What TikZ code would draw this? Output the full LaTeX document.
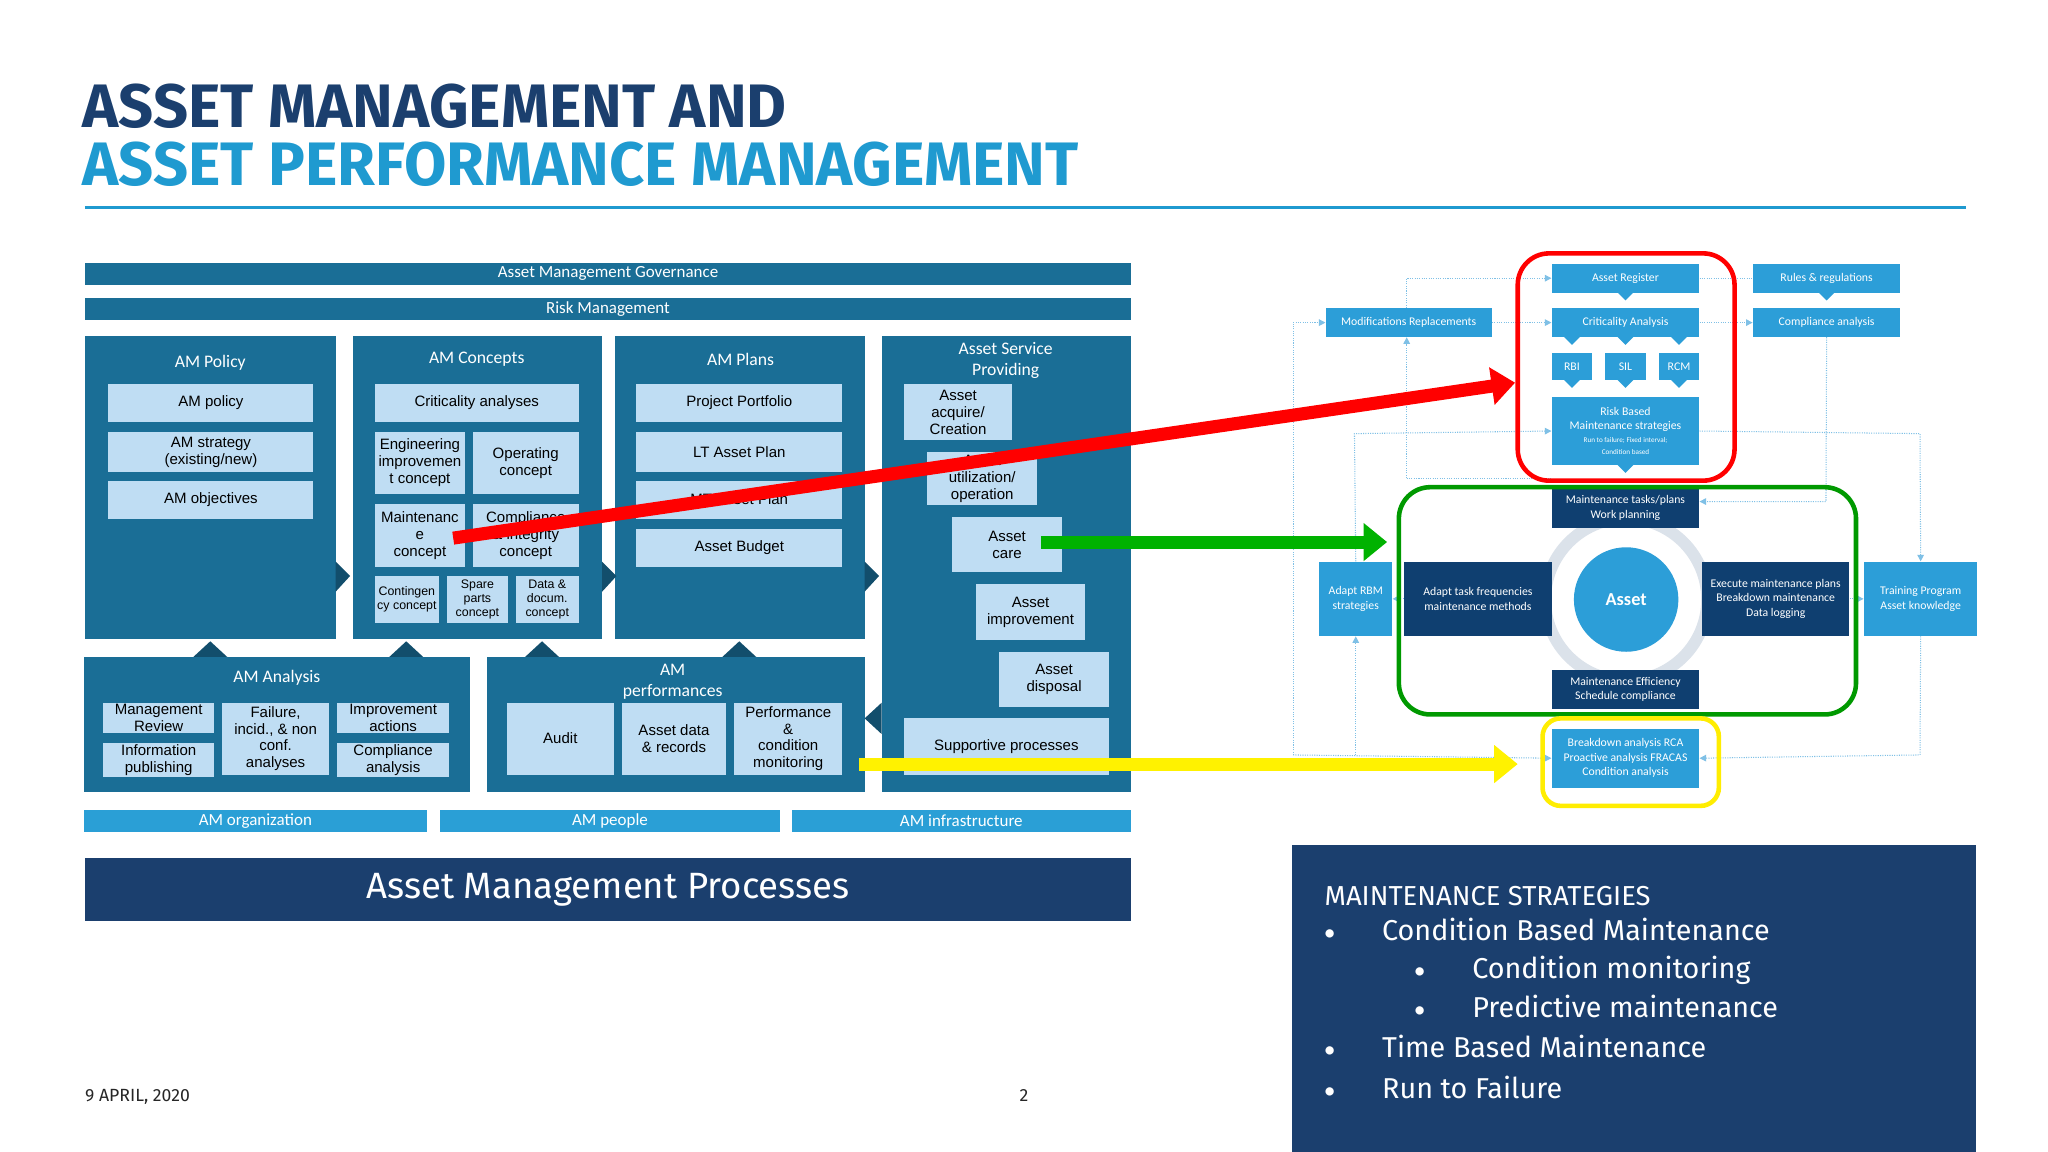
\documentclass[tikz,border=0pt]{standalone}
\usepackage{fontspec}
\setmainfont{Carlito}
\setsansfont{Liberation Sans}
\newfontfamily\titlef{Fira Sans}
\usetikzlibrary{arrows.meta}
\definecolor{navy}{HTML}{1B3F6E}
\definecolor{cyanT}{HTML}{1F9AD0}
\definecolor{teal}{HTML}{1A6E96}
\definecolor{lightb}{HTML}{BFDDF3}
\definecolor{barc}{HTML}{2A9FD6}
\definecolor{rbl}{HTML}{2C9ED8}
\definecolor{dkb}{HTML}{0F3F70}
\definecolor{tri}{HTML}{124E6C}
\definecolor{dotc}{HTML}{7FC0E6}
\newcommand\B[7]{\node[#1,minimum width={#5-#3},minimum height={#6-#4}] (#2) at ({(#3+#5)/2},{(#4+#6)/2}) {#7};}
\tikzset{
 every node/.style={inner sep=1pt,align=center},
 panel/.style={fill=teal,draw=none},
 lb/.style={fill=lightb,text=black,font=\sffamily\fontsize{11.5}{13}\selectfont},
 bar/.style={fill=teal,text=white,font=\fontsize{13}{14}\selectfont},
 cbar/.style={fill=barc,text=white,font=\fontsize{13}{14}\selectfont},
 hd/.style={text=white,font=\fontsize{13.5}{16}\selectfont},
 rb/.style={fill=rbl,text=white,font=\fontsize{9}{11}\selectfont},
 db/.style={fill=dkb,text=white,font=\fontsize{9}{11}\selectfont},
 dl/.style={draw=dotc,densely dotted,line width=0.8},
 da/.style={dl,-{Triangle[length=5,width=5]}},
 big/.style={line width=10,-{Triangle[length=18,width=28]}},
 hl/.style={rounded corners=24,line width=3.5},
}
\begin{document}
\begin{tikzpicture}[x=1pt,y=-1pt]
\useasboundingbox (0,0) rectangle (1568,882);
\fill[white] (0,0) rectangle (1568,882);
% title
\node[anchor=base west,inner sep=0,text=navy,font=\titlef\bfseries\fontsize{47}{50}\selectfont] (t1) at (63,98) {ASSET MANAGEMENT AND};
\node[anchor=base west,inner sep=0,text=cyanT,font=\titlef\bfseries\fontsize{47}{50}\selectfont] (t2) at (63,142) {ASSET PERFORMANCE MANAGEMENT};
\draw[cyanT,line width=2.5] (65,159) -- (1505,159);
% top bars
\B{bar}{gov}{65}{201}{866}{218}{Asset Management Governance}
\B{bar}{risk}{65}{228}{866}{245}{Risk Management}
% panels
\B{panel}{pPol}{65}{257}{257}{489}{}
\B{panel}{pCon}{270}{257}{461}{489}{}
\B{panel}{pPla}{471}{257}{662}{489}{}
\B{panel}{pSer}{675}{257}{866}{606}{}
\B{panel}{pAna}{64}{503}{360}{606}{}
\B{panel}{pPer}{373}{503}{662}{606}{}
\node[hd] (hPol) at (161,278) {AM Policy};
\node[hd] (hCon) at (365,275) {AM Concepts};
\node[hd] (hPla) at (567,275) {AM Plans};
\node[hd] (hSer) at (770,276) {Asset Service\\Providing};
\node[hd] (hAna) at (212,519) {AM Analysis};
\node[hd] (hPer) at (515,522) {AM\\performances};
% triangles
\foreach \x in {257,461,662}{\fill[tri] (\x,430) -- (\x+11,441) -- (\x,453) -- cycle;}
\fill[tri] (675,538) -- (662,550) -- (675,562) -- cycle;
\foreach \x in {161,311,415,566}{\fill[tri] (\x-13,503) -- (\x,491) -- (\x+13,503) -- cycle;}
% AM policy boxes
\B{lb}{b1}{83}{294}{240}{323}{AM policy}
\B{lb}{b2}{83}{331}{240}{361}{AM strategy\\(existing/new)}
\B{lb}{b3}{83}{368}{240}{397}{AM objectives}
% concepts
\B{lb}{c1}{287}{294}{443}{323}{Criticality analyses}
\B{lb}{c2}{287}{331}{356}{378}{Engineering\\improvemen\\t concept}
\B{lb}{c3}{362}{331}{443}{378}{Operating\\concept}
\B{lb}{c4}{287}{386}{356}{434}{Maintenanc\\e\\concept}
\B{lb}{c5}{362}{386}{443}{434}{Compliance\\\& integrity\\concept}
\B{lb,font=\sffamily\fontsize{9.5}{11}\selectfont}{c6}{287}{441}{336}{477}{Contingen\\cy concept}
\B{lb,font=\sffamily\fontsize{9.5}{11}\selectfont}{c7}{342}{441}{389}{477}{Spare\\parts\\concept}
\B{lb,font=\sffamily\fontsize{9.5}{11}\selectfont}{c8}{395}{441}{443}{477}{Data \&\\docum.\\concept}
% plans
\B{lb}{p1}{487}{294}{645}{323}{Project Portfolio}
\B{lb}{p2}{487}{331}{645}{361}{LT Asset Plan}
\B{lb}{p3}{487}{368}{645}{397}{MT Asset Plan}
\B{lb}{p4}{487}{405}{645}{434}{Asset Budget}
% service
\B{lb}{s1}{692}{294}{775}{337}{Asset\\acquire/\\Creation}
\B{lb}{s2}{710}{346}{794}{387}{Asset\\utilization/\\operation}
\B{lb}{s3}{729}{396}{813}{438}{Asset\\care}
\B{lb}{s4}{747}{447}{831}{490}{Asset\\improvement}
\B{lb}{s5}{765}{499}{849}{541}{Asset\\disposal}
\B{lb}{s6}{692}{550}{849}{593}{Supportive processes}
% analysis
\B{lb}{a1}{79}{538}{164}{561}{Management\\Review}
\B{lb}{a2}{79}{571}{164}{593}{Information\\publishing}
\B{lb}{a3}{170}{538}{252}{593}{Failure,\\incid., \& non\\conf.\\analyses}
\B{lb}{a4}{258}{538}{344}{561}{Improvement\\actions}
\B{lb}{a5}{258}{571}{344}{593}{Compliance\\analysis}
% performances
\B{lb}{e1}{388}{538}{470}{593}{Audit}
\B{lb}{e2}{476}{538}{556}{593}{Asset data\\\& records}
\B{lb}{e3}{562}{538}{645}{593}{Performance\\\&\\condition\\monitoring}
% bottom bars
\B{cbar}{org}{64}{620}{327}{637}{AM organization}
\B{cbar}{ppl}{337}{620}{597}{637}{AM people}
\B{cbar}{inf}{606}{620}{866}{637}{AM infrastructure}
\B{fill=navy,text=white,font=\titlef\fontsize{28}{30}\selectfont}{amp}{65}{657}{866}{705}{Asset Management Processes}
% footer
\node[anchor=base west,font=\titlef\fontsize{13.5}{15}\selectfont,text=black!85] (date) at (64,843) {9 APRIL, 2020};
\node[anchor=base,font=\titlef\fontsize{13.5}{15}\selectfont,text=black!85] (pg) at (784,843) {2};
% right diagram
\draw[draw=dkb!15,line width=9] (1245,459) circle (62);
\B{rb}{reg}{1188}{202}{1301}{224}{Asset Register}
\B{rb}{rul}{1342}{202}{1455}{224}{Rules \& regulations}
\B{rb}{mod}{1015}{236}{1142}{258}{Modifications Replacements}
\B{rb}{cri}{1188}{236}{1301}{258}{Criticality Analysis}
\B{rb}{cmp}{1342}{236}{1455}{258}{Compliance analysis}
\B{rb}{rbi}{1188}{270}{1219}{291}{RBI}
\B{rb}{sil}{1229}{270}{1260}{291}{SIL}
\B{rb}{rcm}{1270}{270}{1301}{291}{RCM}
\B{rb}{rbm}{1188}{304}{1301}{356}{Risk Based\\Maintenance strategies\\[-1pt]{\fontsize{5.5}{6.5}\selectfont Run to failure; Fixed interval;}\\[-2pt]{\fontsize{5.5}{6.5}\selectfont Condition based}}
\B{db}{mtp}{1188}{374}{1301}{404}{Maintenance tasks/plans\\Work planning}
\B{db}{adt}{1075}{430}{1188}{487}{Adapt task frequencies\\maintenance methods}
\B{db}{exe}{1303}{430}{1416}{487}{Execute maintenance plans\\Breakdown maintenance\\Data logging}
\B{rb}{arb}{1010}{430}{1066}{487}{Adapt RBM\\strategies}
\B{rb}{trn}{1427}{430}{1514}{487}{Training Program\\Asset knowledge}
\B{db}{eff}{1188}{513}{1301}{543}{Maintenance Efficiency\\Schedule compliance}
\B{rb}{bda}{1188}{558}{1301}{603}{Breakdown analysis RCA\\Proactive analysis FRACAS\\Condition analysis}
\node[circle,fill=rbl,minimum size=80,text=white,font=\bfseries\fontsize{14}{16}\selectfont] (ast) at (1245,459) {Asset};
% notches
\foreach \x/\y in {1244.5/224,1398.5/224,1203.5/258,1244.5/258,1285.5/258,1203.5/291,1244.5/291,1285.5/291,1244.5/356}
 {\fill[rbl] (\x-6,\y) -- (\x,\y+6) -- (\x+6,\y) -- cycle;}
% dotted connectors
\coordinate (m1) at (1077,213); \coordinate (m2) at (1077,366);
\draw[da] (mod.north -| m1) -- (m1) -- (reg.west);
\draw[da] (mod.east) -- (cri.west);
\draw[da] (m2) -- (mod.south -| m2);
\draw[dl] (m2) -- (1188,366);
\draw[dl] (reg.east) -- (rul.west);
\draw[da] (cri.east) -- (cmp.west);
\coordinate (l1) at (990,247); \coordinate (l2) at (990,578);
\draw[da] (l2) -- (l1) -- (mod.west);
\draw[da] (l2) -- (bda.west);
\coordinate (r1) at (1037,332);
\draw[da] (arb.north) -- (r1) -- (rbm.west);
\draw[da] (arb.south |- l2) -- (arb.south);
\coordinate (r2) at (1470,332);
\draw[da] (rbm.east) -- (r2) -- (trn.north);
\coordinate (c1) at (1398,384);
\draw[da] (cmp.south) -- (c1) -- (mtp.east |- c1);
\coordinate (t1b) at (1470,578);
\draw[da] (trn.south) -- (t1b) -- (bda.east);
\draw[da] (adt.west) -- (arb.east);
\draw[da] (exe.east) -- (trn.west);
% highlight frames
\draw[hl,red] (1162,194) rectangle (1328,368);
\draw[hl,green!60!black] (1071,373) rectangle (1421,547);
\draw[hl,yellow!95!orange,rounded corners=14] (1181,550) rectangle (1316,617);
% big arrows
\coordinate (ra) at (347,412); \coordinate (ga) at (797,415); \coordinate (ya) at (658,585);
\draw[big,red] (ra) -- (1160,293);
\draw[big,green!70!black] (ga) -- (1062,415);
\draw[big,yellow] (ya) -- (1162,585);
% maintenance strategies
\B{fill=navy}{ms}{989}{647}{1513}{882}{}
\node[anchor=base west,inner sep=0,text=white,font=\titlef\fontsize{21}{24}\selectfont] (mst) at (1014,693) {MAINTENANCE STRATEGIES};
\foreach \bx/\tx/\y/\t in {1018/1058/720/Condition Based Maintenance,1087/1127/749/Condition monitoring,1087/1127/779/Predictive maintenance,1018/1058/810/Time Based Maintenance,1018/1058/841/Run to Failure}
 {\node[anchor=base,inner sep=0,text=white,font=\fontsize{18}{20}\selectfont] at (\bx,\y) {\textbullet};
  \node[anchor=base west,inner sep=0,text=white,font=\titlef\fontsize{22}{24}\selectfont] at (\tx,\y) {\t};}
\end{tikzpicture}
\end{document}
